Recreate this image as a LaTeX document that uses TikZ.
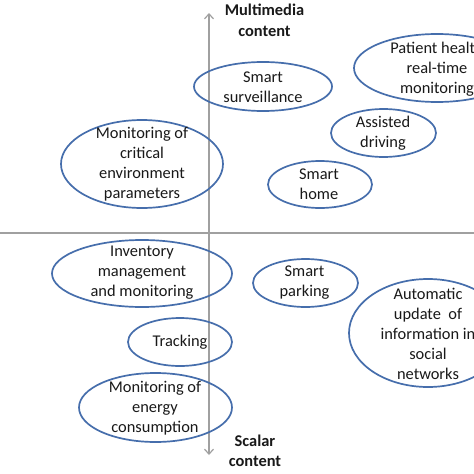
\documentclass[tikz,border=0pt]{standalone}
\usepackage{fontspec}
\setmainfont{Carlito}
\usetikzlibrary{shapes.geometric,arrows.meta}
\definecolor{bubblue}{RGB}{70,110,172}
\definecolor{axgray}{RGB}{160,160,160}
\definecolor{txtc}{RGB}{25,25,25}
\begin{document}
\begin{tikzpicture}[x=1pt,y=-1pt,
  bub/.style={ellipse,draw=bubblue,line width=1.7pt,inner sep=0pt},
  txt/.style={align=center,text=txtc,inner sep=0pt,font=\fontsize{16.4}{20}\selectfont},
  axlbl/.style={align=center,text=txtc,inner sep=0pt,font=\fontsize{16.4}{20.5}\selectfont\bfseries},
  axis/.style={draw=axgray,line width=1.5pt},
  tip/.style={-{Straight Barb[length=5pt,width=9pt,line width=1.2pt]}}]
\useasboundingbox (0,0) rectangle (474,474);
\fill[white] (0,0) rectangle (474,474);
% axes
\coordinate (vmid) at (209,233);
\coordinate (vtop) at (209,13);
\coordinate (vbot) at (209,455);
\coordinate (hl) at (-2,233);
\coordinate (hr) at (476,233);
\draw[axis,tip] (vmid) -- (vtop);
\draw[axis,tip] (vmid) -- (vbot);
\draw[axis] (hl) -- (hr);
% axis labels
\node[axlbl] (mm) at (264.5,20.5) {Multimedia\\content};
\node[axlbl] (sc) at (255,451) {Scalar\\content};
% bubbles
\node[bub,minimum width=138pt,minimum height=49pt] (ss) at (263,86.5) {};
\node[txt] (sst) at (263,87) {Smart\\surveillance};
\node[bub,minimum width=166pt,minimum height=68pt] (ph) at (437,68) {};
\node[txt] (pht) at (437,69) {Patient health\\real-time\\monitoring};
\node[bub,minimum width=105pt,minimum height=48pt] (ad) at (383.5,133) {};
\node[txt] (adt) at (383,133) {Assisted\\driving};
\node[bub,minimum width=162pt,minimum height=88pt] (mc) at (142,164) {};
\node[txt] (mct) at (142,164) {Monitoring of\\critical\\environment\\parameters};
\node[bub,minimum width=104pt,minimum height=47pt] (sh) at (320,184.5) {};
\node[txt] (sht) at (319,184) {Smart\\home};
\node[bub,minimum width=180pt,minimum height=67pt] (im) at (142,273.5) {};
\node[txt] (imt) at (142,273) {Inventory\\management\\and monitoring};
\node[bub,minimum width=105pt,minimum height=48pt] (sp) at (305.5,283) {};
\node[txt] (spt) at (304.5,283) {Smart\\parking};
\node[bub,minimum width=158pt,minimum height=108pt] (au) at (428,333) {};
\node[txt] (aut) at (428,334) {Automatic\\update\ \ of\\information in\\social\\networks};
\node[bub,minimum width=104pt,minimum height=48pt] (tr) at (180,342) {};
\node[txt] (trt) at (180,342) {Tracking};
\node[bub,minimum width=153pt,minimum height=69pt] (me) at (155.5,407.5) {};
\node[txt] (met) at (155,408) {Monitoring of\\energy\\consumption};
\end{tikzpicture}
\end{document}
